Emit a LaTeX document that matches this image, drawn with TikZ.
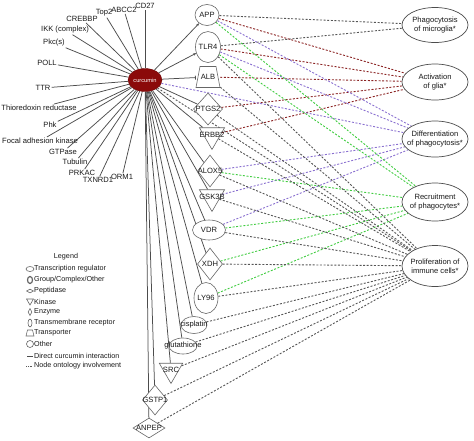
\documentclass[tikz,border=0pt]{standalone}
\usepackage{fontspec}
\setmainfont{Liberation Sans}
\usetikzlibrary{shapes.geometric,arrows.meta}
\definecolor{cgray}{HTML}{555555}
\definecolor{cred}{HTML}{8B2323}
\definecolor{cpurp}{HTML}{8A70D0}
\definecolor{cgreen}{HTML}{40CC40}
\definecolor{curfill}{HTML}{8B0A0A}
\pgfdeclarelayer{edges}
\pgfsetlayers{edges,main}
\begin{document}
\begin{tikzpicture}[x=1pt,y=-1pt,
  every node/.style={inner sep=0pt},
  sh/.style={draw=black!60, line width=0.6pt, fill=white},
  ell/.style={sh, ellipse},
  dia/.style={sh, diamond},
  kin/.style={sh, regular polygon, regular polygon sides=3, shape border rotate=180},
  mtxt/.style={font=\fontsize{7.6}{8}\selectfont, text=black!90},
  lbl/.style={font=\fontsize{7.6}{8}\selectfont, text=black!90, inner sep=1pt},
  lgt/.style={font=\fontsize{7.2}{8}\selectfont, text=black!90, anchor=west},
  rt/.style={ellipse, draw=black!70, line width=0.7pt, fill=white, minimum width=66pt},
  rtxt/.style={font=\fontsize{7.6}{8.6}\selectfont, align=center, text=black!90},
  sol/.style={draw=black!70, line width=0.75pt},
  ont/.style={dash pattern=on 2pt off 1.6pt, line width=0.9pt},
  dgray/.style={ont, draw=cgray},
  dred/.style={ont, draw=cred},
  dpurp/.style={ont, draw=cpurp},
  dgreen/.style={ont, draw=cgreen}
]
\useasboundingbox (0,0) rectangle (474,440);

% curcumin
\node[ellipse, fill=curfill, draw=curfill!80!black, minimum width=34pt, minimum height=23pt,
      font=\fontsize{5.7}{6}\selectfont, text=white] (cur) at (145,80) {curcumin};

% left labels
\node[lbl] (cd27) at (145,6) {CD27};
\node[lbl] (abcc2) at (124,10) {ABCC2};
\node[lbl] (top2) at (104,13) {Top2};
\node[lbl] (crebbp) at (82,19) {CREBBP};
\node[lbl] (ikk) at (65,30) {IKK (complex)};
\node[lbl] (pkc) at (54,43) {Pkc(s)};
\node[lbl] (poll) at (47,63) {POLL};
\node[lbl] (ttr) at (43,88) {TTR};
\node[lbl] (thio) at (39,108) {Thioredoxin reductase};
\node[lbl] (phk) at (50,125) {Phk};
\node[lbl] (fak) at (40,141) {Focal adhesion kinase};
\node[lbl] (gtp) at (63,152) {GTPase};
\node[lbl] (tub) at (75,162) {Tubulin};
\node[lbl] (prkac) at (82,173) {PRKAC};
\node[lbl] (txn) at (98,180) {TXNRD1};
\node[lbl] (orm) at (122,177) {ORM1};

% middle column
\node[ell, minimum width=24pt, minimum height=21pt, label={[mtxt]center:APP}] (app) at (207,15) {};
\node[ell, minimum width=25pt, minimum height=31pt, label={[mtxt]center:TLR4}] (tlr4) at (208,47) {};
\filldraw[sh] (196,87.5) -- (220,87.5) -- (216,66.5) -- (200,66.5) -- cycle;
\node[minimum width=24pt, minimum height=21pt, label={[mtxt]center:ALB}] (alb) at (208,77) {};
\node[dia, minimum width=29pt, minimum height=32pt, label={[mtxt]center:PTGS2}] (ptgs2) at (208,109) {};
\node[kin, minimum size=29pt, label={[mtxt]center:ERBB2}] (erbb2) at (212,135) {};
\node[dia, minimum width=25pt, minimum height=32pt, label={[mtxt]center:ALOX5}] (alox5) at (210,171) {};
\node[kin, minimum size=29pt, label={[mtxt]center:GSK3B}] (gsk3b) at (212,197) {};
\node[ell, minimum width=33pt, minimum height=20pt, label={[mtxt]center:VDR}] (vdr) at (209,230) {};
\node[dia, minimum width=25pt, minimum height=32pt, label={[mtxt]center:XDH}] (xdh) at (210,264) {};
\node[ell, minimum width=24pt, minimum height=31pt, label={[mtxt]center:LY96}] (ly96) at (206,298) {};
\node[ell, minimum width=26pt, minimum height=17pt, label={[mtxt]center:cisplatin}] (cis) at (194,325) {};
\node[ell, minimum width=28pt, minimum height=16pt, label={[mtxt]center:glutathione}] (glu) at (183,346) {};
\node[kin, minimum size=27pt, label={[mtxt]center:SRC}] (src) at (171,370) {};
\node[dia, minimum width=25pt, minimum height=30pt, label={[mtxt]center:GSTP1}] (gstp1) at (155,400) {};
\node[dia, minimum width=32pt, minimum height=20pt, label={[mtxt]center:ANPEP}] (anpep) at (149,428) {};

% right ellipses
\node[rt, minimum height=35pt, label={[rtxt]center:{Phagocytosis\\of microglia*}}] (phago) at (435,25) {};
\node[rt, minimum height=36pt, label={[rtxt]center:{Activation\\of glia*}}] (act) at (435,82) {};
\node[rt, minimum height=36pt, label={[rtxt]center:{Differentiation\\of phagocytosis*}}] (diff) at (435,139) {};
\node[rt, minimum height=38pt, label={[rtxt]center:{Recruitment\\of phagocytes*}}] (recr) at (435,202) {};
\node[rt, minimum height=41pt, label={[rtxt]center:{Proliferation of\\immune cells*}}] (prol) at (435,266) {};

% legend
\node[font=\fontsize{7.2}{8}\selectfont, text=black!90] (legt) at (66,257) {Legend};
\node[ell, minimum width=8pt, minimum height=5pt] (li1) at (30,269) {};
\node[lgt] (lt1) at (34,269) {Transcription regulator};
\node[ell, line width=1.2pt, minimum width=5pt, minimum height=7pt] (li2) at (30,280) {};
\node[lgt] (lt2) at (34,280) {Group/Complex/Other};
\node[dia, minimum width=7pt, minimum height=4pt] (li3) at (30,291) {};
\node[lgt] (lt3) at (34,291) {Peptidase};
\node[kin, minimum size=8pt] (li4) at (30,301) {};
\node[lgt] (lt4) at (34,302) {Kinase};
\node[dia, minimum width=4pt, minimum height=7pt] (li5) at (30,312) {};
\node[lgt] (lt5) at (34,312) {Enzyme};
\node[ell, minimum width=4pt, minimum height=8pt] (li6) at (30,323) {};
\node[lgt] (lt6) at (34,323) {Transmembrane receptor};
\filldraw[sh] (26,336) -- (34,336) -- (32.5,330) -- (27.5,330) -- cycle;
\coordinate (li7) at (30,333);
\node[lgt] (lt7) at (34,333) {Transporter};
\node[ell, minimum size=7pt] (li8) at (30,344) {};
\node[lgt] (lt8) at (34,344) {Other};
\coordinate (l9a) at (27,356); \coordinate (l9b) at (33,356);
\node[lgt] (lt9) at (34,356) {Direct curcumin interaction};
\coordinate (l10a) at (26,366); \coordinate (l10b) at (33,366);
\node[lgt] (lt10) at (34,366) {Node ontology involvement};

\begin{pgfonlayer}{edges}
  \draw[sol, line width=1pt] (l9a) -- (l9b);
  \draw[draw=black!65, line width=0.6pt, dash pattern=on 1pt off 0.8pt] (l10a) -- (l10b);
  % direct interactions to left labels
  \foreach \t in {cd27,abcc2,top2,crebbp,ikk,pkc,poll,ttr,thio,phk,fak,gtp,tub,prkac,txn,orm}
    \draw[sol] (cur) -- (\t);
  % direct interactions to middle column
  \draw[sol, -{Stealth[length=3pt,width=2.5pt]}] (cur) -- (app);
  \draw[sol, -{Stealth[length=3pt,width=2.5pt]}] (cur) -- (tlr4);
  \draw[sol, -{Bar[width=4pt]}] (cur) -- (alb);
  \foreach \t in {ptgs2,erbb2,alox5,gsk3b,vdr,xdh,ly96,cis,glu,src,gstp1,anpep}
    \draw[sol] (cur) -- (\t);
  % ontology involvement
  \foreach \s in {app,tlr4} \draw[dgray] (\s) -- (phago);
  \foreach \s in {app,tlr4,alb,ptgs2,erbb2} \draw[dred] (\s) -- (act);
  \foreach \s in {app,tlr4,cur,alox5,gsk3b,vdr} \draw[dpurp] (\s) -- (diff);
  \foreach \s in {app,tlr4,alox5,vdr,xdh,ly96} \draw[dgreen] (\s) -- (recr);
  \foreach \s in {cur,tlr4,alb,ptgs2,erbb2,alox5,gsk3b,vdr,xdh,ly96,cis,glu,src,gstp1,anpep}
    \draw[dgray] (\s) -- (prol);
\end{pgfonlayer}
\end{tikzpicture}
\end{document}
